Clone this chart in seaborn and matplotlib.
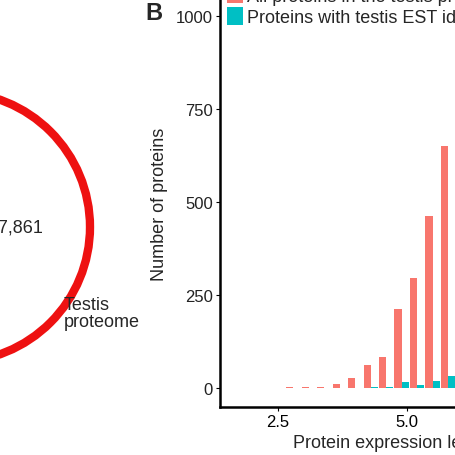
import matplotlib
matplotlib.use("Agg")
import matplotlib.pyplot as plt
import seaborn as sns
import pandas as pd
from matplotlib.patches import Circle

centers = [2.2, 2.5, 2.8, 3.1, 3.4, 3.7, 4.0, 4.3, 4.6, 4.9, 5.2, 5.5, 5.8]
all_counts = [1, 1, 2, 2, 4, 11, 27, 62, 83, 212, 296, 462, 650]
est_counts = [0, 0, 0, 0, 0, 0, 1, 2, 3, 17, 8, 20, 32]
series = ["All proteins in the testis proteome", "Proteins with testis EST identification"]

df = pd.DataFrame({
    "x": centers * 2,
    "n": all_counts + est_counts,
    "s": [series[0]] * len(centers) + [series[1]] * len(centers),
})

sns.set_style("white")
plt.rcParams['font.family'] = ['Liberation Sans', 'DejaVu Sans']
fig = plt.figure(figsize=(4.56, 4.56), dpi=100)
ax = fig.add_axes([220/456, 48/456, 400/456, 408/456])
sns.barplot(data=df, x="x", y="n", hue="s", native_scale=True, dodge=True,
            width=0.93, palette=["#F8766D", "#00BFC4"], ax=ax, saturation=1, linewidth=0)
ax.set_xlim(1.38, 9.13)
ax.set_ylim(-51, 1046)
ax.set_yticks([0, 250, 500, 750, 1000])
ax.set_xticks([2.5, 5.0, 7.5])
ax.set_xticklabels(["2.5", "5.0", "7.5"])
ax.tick_params(axis="both", labelsize=12, colors="black", length=3, left=True, bottom=True, pad=2)
ax.tick_params(axis="y", labelcolor="#222222")
for s in ["top", "right"]:
    ax.spines[s].set_visible(False)
for s in ["left", "bottom"]:
    ax.spines[s].set_color("black"); ax.spines[s].set_linewidth(1.8)
ax.set_xlabel("Protein expression level (log10)", fontsize=13, labelpad=4)
ax.set_ylabel("Number of proteins", fontsize=13, labelpad=6)
leg = ax.legend(loc="upper left", bbox_to_anchor=(0.0, 1.05), frameon=False, fontsize=13,
                handlelength=0.9, handleheight=1.1, handletextpad=0.2, borderaxespad=0, labelspacing=0.15)

fig.text(145/456, 1 - 14/456, "B", fontsize=17, fontweight="bold", va="center")
circ = Circle((-45/456, 1 - 228/456), 135/456, transform=fig.transFigure, fill=False,
              edgecolor="#EE1111", linewidth=6)
fig.patches.append(circ)
fig.text(44/456, 1 - 228/456, "17,861", fontsize=13, ha="right", va="center")
fig.text(64/456, 1 - 314/456, "Testis\nproteome", fontsize=13, ha="left", va="center", linespacing=1.0)

fig.savefig("out.png", dpi=100)
